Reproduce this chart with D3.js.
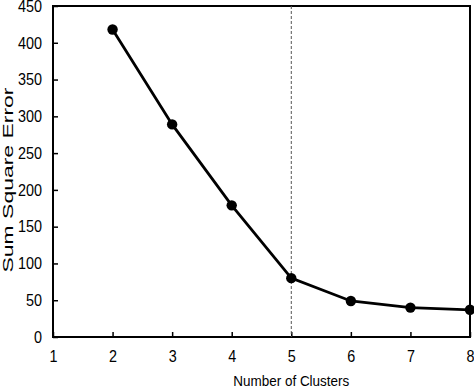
<!DOCTYPE html>
<html>
<head>
<meta charset="utf-8">
<script src="https://cdn.jsdelivr.net/npm/d3@7"></script>
<style>
  body { margin: 0; background: #fff; }
  text { font-family: "Liberation Sans", Arial, sans-serif; fill: #000; }
</style>
</head>
<body>
<div id="chart"></div>
<script>
// elbow plot data
var clusters = [2, 3, 4, 5, 6, 7, 8];
var sse = [418, 289, 179, 80, 49, 40, 37];
var xTicks = [1, 2, 3, 4, 5, 6, 7, 8];
var yTicks = [0, 50, 100, 150, 200, 250, 300, 350, 400, 450];
var elbowK = 5;

var width = 474, height = 388;
var margin = {top: 6, right: 4, bottom: 51, left: 53};

var svg = d3.select("#chart").append("svg")
    .attr("width", width)
    .attr("height", height);

var x = d3.scaleLinear().domain([1, 8]).range([margin.left, width - margin.right]);
var y = d3.scaleLinear().domain([0, 450]).range([height - margin.bottom, margin.top]);

// inward ticks
var xAxis = d3.axisBottom(x).tickValues(xTicks).tickSize(-5).tickPadding(13).tickFormat(d3.format("d"));
var yAxis = d3.axisLeft(y).tickValues(yTicks).tickSize(-5).tickPadding(11).tickFormat(d3.format("d"));

var gx = svg.append("g")
    .attr("transform", "translate(0," + y(0) + ")")
    .call(xAxis);
var gy = svg.append("g")
    .attr("transform", "translate(" + x(1) + ",0)")
    .call(yAxis);

// the source figure looks squeezed sideways, so narrow the glyphs a bit
[gx, gy].forEach(function (g) {
    g.select(".domain").remove();
    g.selectAll(".tick line").attr("stroke", "#000").attr("stroke-width", 1.5);
    g.selectAll(".tick text")
        .style("font-size", "16.5px")
        .attr("lengthAdjust", "spacingAndGlyphs")
        .attr("textLength", function () { return this.textContent.length * 8; });
});

// frame
svg.append("rect")
    .attr("x", x(1))
    .attr("y", y(450))
    .attr("width", x(8) - x(1))
    .attr("height", y(0) - y(450))
    .attr("fill", "none")
    .attr("stroke", "#000")
    .attr("stroke-width", 2);

// elbow marker
svg.append("line")
    .attr("x1", x(elbowK)).attr("x2", x(elbowK))
    .attr("y1", y(450)).attr("y2", y(0))
    .attr("stroke", "#555")
    .attr("stroke-width", 1)
    .attr("stroke-dasharray", "3,2");

var pts = clusters.map(function (c, i) { return [c, sse[i]]; });

var line = d3.line()
    .x(function (d) { return x(d[0]); })
    .y(function (d) { return y(d[1]); });

svg.append("path")
    .datum(pts)
    .attr("d", line)
    .attr("fill", "none")
    .attr("stroke", "#000")
    .attr("stroke-width", 2.8);

svg.selectAll(".dot")
    .data(pts)
    .enter().append("circle")
    .attr("class", "dot")
    .attr("cx", function (d) { return x(d[0]); })
    .attr("cy", function (d) { return y(d[1]); })
    .attr("r", 5.2)
    .attr("fill", "#000");

svg.append("text")
    .attr("x", x(elbowK))
    .attr("y", 386)
    .attr("text-anchor", "middle")
    .attr("lengthAdjust", "spacingAndGlyphs")
    .attr("textLength", 116)
    .style("font-size", "15.5px")
    .text("Number of Clusters");

svg.append("text")
    .attr("transform", "translate(13,180) rotate(-90)")
    .attr("text-anchor", "middle")
    .attr("lengthAdjust", "spacingAndGlyphs")
    .attr("textLength", 185)
    .style("font-size", "14px")
    .text("Sum Square Error");
</script>
</body>
</html>
